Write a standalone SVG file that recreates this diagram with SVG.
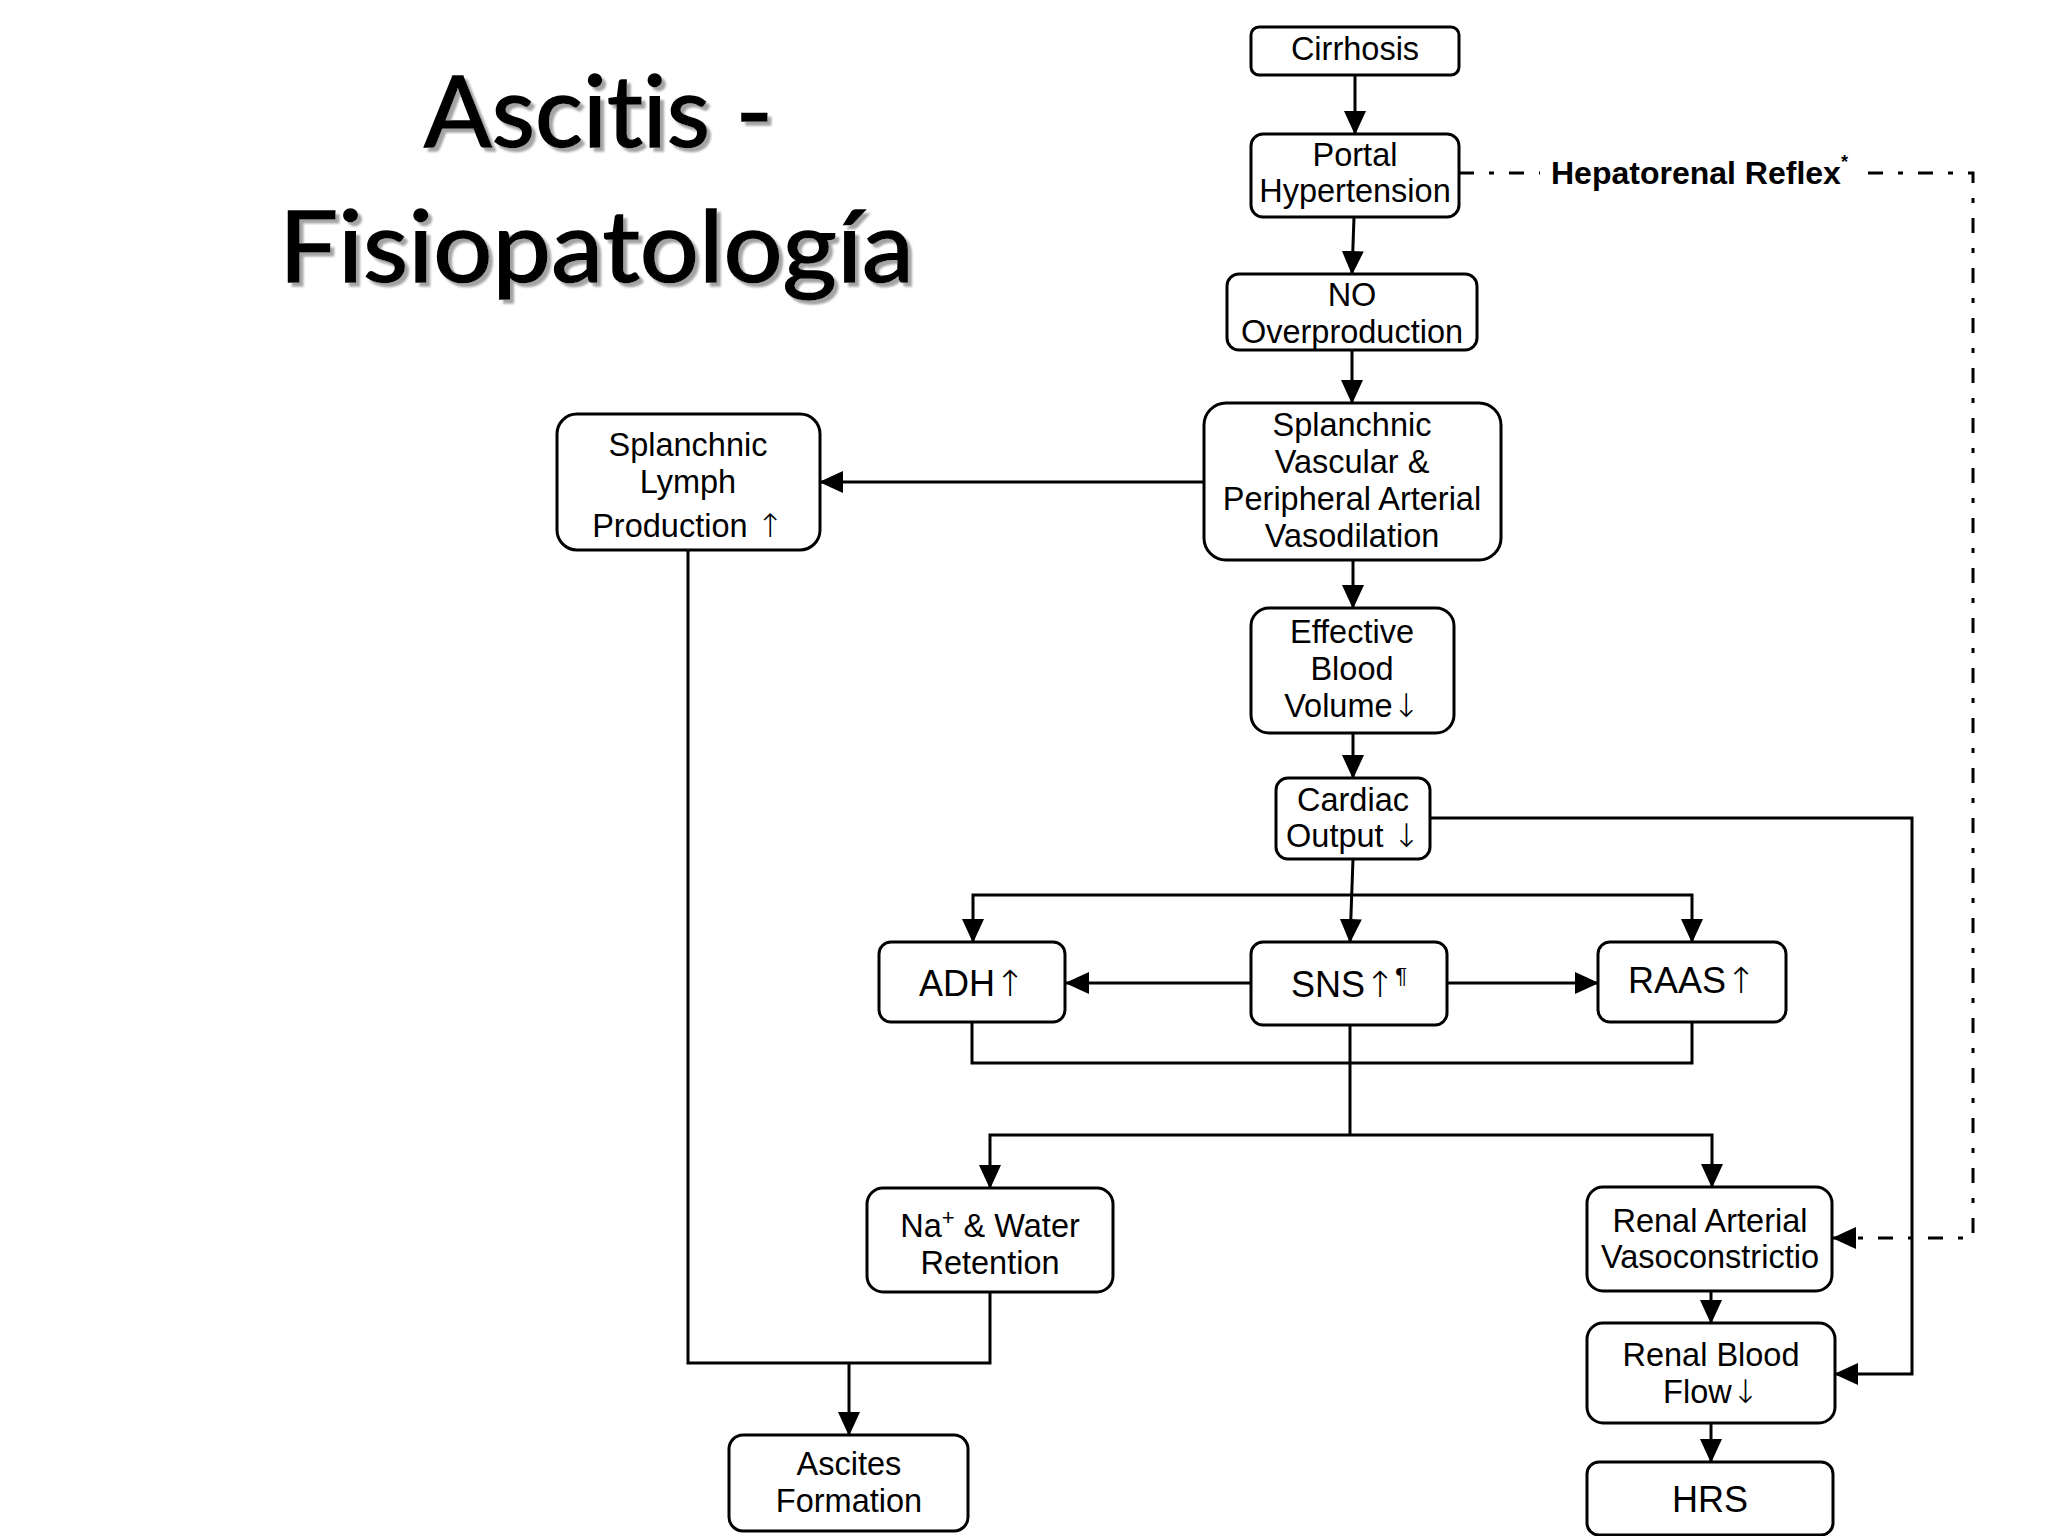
<svg xmlns="http://www.w3.org/2000/svg" width="2048" height="1536" viewBox="0 0 2048 1536">
<style>
.box{fill:#fff;stroke:#000;stroke-width:3}
.t{font-family:"Liberation Sans",Arial,sans-serif;font-size:32.5px;text-anchor:middle;fill:#000}
.big{font-size:36px}
.ar{font-family:"DejaVu Sans",sans-serif;font-weight:200}
.ln{fill:none;stroke:#000;stroke-width:3}
.dash{fill:none;stroke:#000;stroke-width:3;stroke-dasharray:15 15 5 15}
.title{font-family:Lato,"Open Sans",sans-serif;font-size:98px;fill:#000;stroke:#000;stroke-width:1.5;font-variant-ligatures:none;font-feature-settings:"liga" 0}
.lbl{font-family:"Liberation Sans",Arial,sans-serif;font-size:32px;font-weight:bold;fill:#000}
</style>
<defs>
<marker id="ah" viewBox="0 0 24 22" refX="23" refY="11" markerWidth="24" markerHeight="22" markerUnits="userSpaceOnUse" orient="auto">
<path d="M0 0 L24 11 L0 22 z" fill="#000" stroke="none"/>
</marker>
<filter id="sh" x="-5%" y="-5%" width="115%" height="125%">
<feDropShadow dx="4" dy="4" stdDeviation="1.2" flood-color="#9a9a9a" flood-opacity="0.9"/>
</filter>
</defs>
<rect width="2048" height="1536" fill="#fff"/>
<g id="title" filter="url(#sh)">
<text class="title" x="424" y="147" textLength="349" lengthAdjust="spacingAndGlyphs">Ascitis -</text>
<text class="title" x="279" y="282" textLength="635" lengthAdjust="spacingAndGlyphs">Fisiopatología</text>
</g>
<g id="connectors">
<path class="ln" d="M1355 75 V134" marker-end="url(#ah)"/>
<path class="ln" d="M1354 217 L1352 274" marker-end="url(#ah)"/>
<path class="ln" d="M1352 350 V403" marker-end="url(#ah)"/>
<path class="ln" d="M1204 482 H820" marker-end="url(#ah)"/>
<path class="ln" d="M1353 560 V608" marker-end="url(#ah)"/>
<path class="ln" d="M1353 733 V778" marker-end="url(#ah)"/>
<path class="ln" d="M1353 859 L1350 942" marker-end="url(#ah)"/>
<path class="ln" d="M1352 895 H973 V942" marker-end="url(#ah)"/>
<path class="ln" d="M1352 895 H1692 V942" marker-end="url(#ah)"/>
<path class="ln" d="M1251 983 H1066" marker-end="url(#ah)"/>
<path class="ln" d="M1447 983 H1598" marker-end="url(#ah)"/>
<path class="ln" d="M972 1022 V1063 H1692 V1022"/>
<path class="ln" d="M1350 1025 V1135"/>
<path class="ln" d="M1350 1135 H990 V1188" marker-end="url(#ah)"/>
<path class="ln" d="M1350 1135 H1712 V1187" marker-end="url(#ah)"/>
<path class="ln" d="M688 550 V1363 H990 V1292"/>
<path class="ln" d="M849 1363 V1435" marker-end="url(#ah)"/>
<path class="ln" d="M1711 1291 V1323" marker-end="url(#ah)"/>
<path class="ln" d="M1711 1423 V1462" marker-end="url(#ah)"/>
<path class="ln" d="M1430 818 H1912 V1374 H1835" marker-end="url(#ah)"/>
<path class="dash" d="M1459 173 H1540"/>
<path class="dash" d="M1868 173 H1973 V1238 H1833" marker-end="url(#ah)"/>
<text class="lbl" x="1551" y="184">Hepatorenal Reflex<tspan font-size="18" dy="-16">*</tspan></text>
</g>
<g id="cirrhosis"><rect class="box" x="1251" y="27" width="208" height="48" rx="8"/><text class="t" x="1355" y="60">Cirrhosis</text></g>
<g id="portal"><rect class="box" x="1251" y="134" width="208" height="83" rx="12"/><text class="t" x="1355" y="166">Portal</text><text class="t" x="1355" y="202">Hypertension</text></g>
<g id="no"><rect class="box" x="1227" y="274" width="250" height="76" rx="12"/><text class="t" x="1352" y="306">NO</text><text class="t" x="1352" y="343">Overproduction</text></g>
<g id="vascular"><rect class="box" x="1204" y="403" width="297" height="157" rx="22"/><text class="t" x="1352" y="436">Splanchnic</text><text class="t" x="1352" y="473">Vascular &amp;</text><text class="t" x="1352" y="510">Peripheral Arterial</text><text class="t" x="1352" y="547">Vasodilation</text></g>
<g id="lymph"><rect class="box" x="557" y="414" width="263" height="136" rx="20"/><text class="t" x="688" y="456">Splanchnic</text><text class="t" x="688" y="493">Lymph</text><text class="t" x="688" y="537">Production <tspan class="ar">↑</tspan></text></g>
<g id="ebv"><rect class="box" x="1251" y="608" width="203" height="125" rx="18"/><text class="t" x="1352" y="643">Effective</text><text class="t" x="1352" y="680">Blood</text><text class="t" x="1352" y="717">Volume<tspan class="ar">↓</tspan></text></g>
<g id="cardiac"><rect class="box" x="1276" y="778" width="154" height="81" rx="12"/><text class="t" x="1353" y="811">Cardiac</text><text class="t" x="1353" y="847">Output <tspan class="ar">↓</tspan></text></g>
<g id="adh"><rect class="box" x="879" y="942" width="186" height="80" rx="12"/><text class="t big" x="972" y="996">ADH<tspan class="ar">↑</tspan></text></g>
<g id="sns"><rect class="box" x="1251" y="942" width="196" height="83" rx="12"/><text class="t big" x="1349" y="997">SNS<tspan class="ar">↑</tspan><tspan font-size="22" dy="-14">¶</tspan></text></g>
<g id="raas"><rect class="box" x="1598" y="942" width="188" height="80" rx="12"/><text class="t big" x="1692" y="993">RAAS<tspan class="ar">↑</tspan></text></g>
<g id="na"><rect class="box" x="867" y="1188" width="246" height="104" rx="16"/><text class="t" x="990" y="1237">Na<tspan font-size="22" dy="-12">+</tspan><tspan dy="12"> &amp; Water</tspan></text><text class="t" x="990" y="1274">Retention</text></g>
<g id="renalart"><rect class="box" x="1587" y="1187" width="245" height="104" rx="16"/><text class="t" x="1710" y="1232">Renal Arterial</text><text class="t" x="1710" y="1268">Vasoconstrictio</text></g>
<g id="rbf"><rect class="box" x="1587" y="1323" width="248" height="100" rx="16"/><text class="t" x="1711" y="1366">Renal Blood</text><text class="t" x="1711" y="1403">Flow<tspan class="ar">↓</tspan></text></g>
<g id="hrs"><rect class="box" x="1587" y="1462" width="246" height="73" rx="12"/><text class="t big" x="1710" y="1512">HRS</text></g>
<g id="ascites"><rect class="box" x="729" y="1435" width="239" height="96" rx="14"/><text class="t" x="849" y="1475">Ascites</text><text class="t" x="849" y="1512">Formation</text></g>
</svg>
